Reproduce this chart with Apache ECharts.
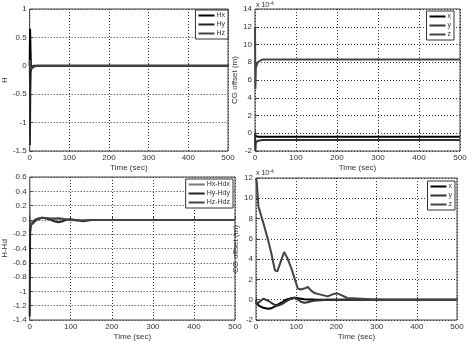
<!DOCTYPE html>
<html><head><meta charset="utf-8">
<script src="https://cdn.jsdelivr.net/npm/echarts@6/dist/echarts.min.js"></script>
<style>html,body{margin:0;padding:0;background:#fff}#c{width:474px;height:355px}</style>
</head><body><div id="c"></div>
<script>
// ---- Data ----
const xTicks = [0, 100, 200, 300, 400, 500];
// Top-left: H
const tH = [0, 1, 2, 3, 5, 8, 12, 20, 500];
const Hx = [0, 0.65, 0.3, 0.02, -0.02, -0.01, 0, 0, 0];
const Hy = [0, -1.4, -0.5, -0.1, -0.05, -0.03, -0.01, 0, 0];
const Hz = [0, 0.1, -0.05, -0.03, -0.03, -0.02, -0.01, 0, 0];
// Top-right: CG offset (x 10^-4)
const tCG1 = [0, 1, 2, 4, 7, 10, 15, 20, 30, 500];
const cg1x = [0, -0.3, -0.4, -0.4, -0.4, -0.4, -0.4, -0.4, -0.4, -0.4];
const cg1y = [0, -2.0, -1.0, -0.9, -0.85, -0.8, -0.78, -0.76, -0.75, -0.75];
const cg1z = [12, 5, 7.3, 7.7, 8.0, 8.15, 8.25, 8.3, 8.3, 8.3];
// Bottom-left: H-Hd
const tHd = [0, 1, 3, 5, 8, 12, 20, 30, 40, 50, 60, 70, 80, 90, 100, 110, 120, 130, 140, 150, 500];
const HxHdx = [0.6, 0.1, -0.02, -0.04, -0.03, -0.01, 0.01, 0.02, 0.02, 0.015, 0.01, 0.01, 0.01, 0.005, 0, 0, 0, 0, 0, 0, 0];
const HyHdy = [-1.35, -0.2, -0.06, -0.08, -0.05, -0.02, 0.01, 0.03, 0.02, 0.005, -0.02, -0.033, -0.02, 0.005, 0.01, 0, -0.01, -0.02, -0.01, 0, 0];
const HzHdz = [0, -0.05, -0.08, -0.06, -0.03, 0, 0.02, 0.03, 0.025, 0.02, 0.02, 0.023, 0.015, 0.005, 0, -0.005, -0.01, -0.01, -0.005, 0, 0];
// Bottom-right: CG offset (x 10^-4)
const tCG2 = [0, 2, 6, 18, 30, 38, 47, 53, 63, 70, 78, 88, 96, 104, 112, 120, 129, 137, 145, 161, 178, 194, 202, 215, 227, 252, 284, 320, 500];
const cg2z = [12, 11.6, 9.2, 7.6, 5.9, 4.6, 2.9, 2.8, 3.9, 4.7, 4.1, 3.1, 2.1, 1.1, 1.0, 1.1, 1.25, 0.9, 0.67, 0.5, 0.33, 0.57, 0.63, 0.4, 0.17, 0.13, 0.05, 0, 0];
const cg2x = [-0.3, -0.4, -0.55, -0.8, -0.9, -0.85, -0.65, -0.5, -0.3, -0.1, 0.05, 0.15, 0.2, 0.15, 0.1, 0.05, 0.03, 0.02, 0.01, 0, 0, 0, 0, 0, 0, 0, 0, 0, 0];
const cg2y = [0, -0.5, -0.3, 0.1, -0.1, -0.3, -0.5, -0.6, -0.45, -0.3, -0.1, 0.1, 0.2, 0, -0.2, -0.3, -0.25, -0.15, -0.1, -0.05, 0, 0, 0, 0, 0, 0, 0, 0, 0];

const pairs = (t, v) => t.map((ti, i) => [ti, v[i]]);
const FONT = 'Liberation Sans';
const txt = {fontFamily: FONT, fontSize: 8, color: '#333'};

const grids = [
  {left: 26, top: 9, width: 202, height: 142},
  {left: 255, top: 9, width: 205, height: 142},
  {left: 26, top: 177, width: 209, height: 143},
  {left: 256, top: 178, width: 201, height: 142}
].map(g => Object.assign(g, {show: true, borderColor: '#444', borderWidth: 1, backgroundColor: '#fff'}));

const splitLine = {show: true, lineStyle: {color: '#333', type: [1, 2], width: 1}};
function xAx(i) {
  return {type: 'value', gridIndex: i, min: 0, max: 500, interval: 100,
    name: 'Time (sec)', nameLocation: 'middle', nameGap: 13, nameTextStyle: txt,
    axisLine: {show: false}, axisTick: {show: true, inside: true, length: 3, lineStyle: {color: '#444'}},
    axisLabel: Object.assign({margin: 3}, txt), splitLine: splitLine};
}
function yAx(i, min, max, interval, name, gap) {
  return {type: 'value', gridIndex: i, min: min, max: max, interval: interval,
    name: name, nameLocation: 'middle', nameGap: gap, nameTextStyle: txt,
    axisLine: {show: false}, axisTick: {show: true, inside: true, length: 3, lineStyle: {color: '#444'}},
    axisLabel: Object.assign({margin: 3}, txt), splitLine: splitLine};
}
function line(name, t, v, idx, color, width) {
  return {name: name, type: 'line', xAxisIndex: idx, yAxisIndex: idx, data: pairs(t, v),
    showSymbol: false, symbol: 'none', lineStyle: {color: color, width: width}, itemStyle: {color: color},
    animation: false};
}
function legend(names, pos) {
  return Object.assign({data: names, orient: 'vertical', itemWidth: 16, itemHeight: 2, itemGap: 2,
    icon: 'rect', padding: [2, 3, 2, 3], backgroundColor: '#fff', borderColor: '#333', borderWidth: 1,
    borderRadius: 0, textStyle: {fontFamily: FONT, fontSize: 7, color: '#333', padding: [0, 0, 0, -3]},
    selectedMode: false, align: 'left'}, pos);
}
const exp = (x, y) => ({type: 'text', left: x, top: y, style: {
  text: '{a|x 10}{b|-4}', rich: {a: {fontFamily: FONT, fontSize: 7, fill: '#333'}, b: {fontFamily: FONT, fontSize: 5, fill: '#333', verticalAlign: 'top', padding: [0, 0, 4, 0]}}}});

const chart = echarts.init(document.getElementById('c'), null, {renderer: 'canvas'});
chart.setOption({
  animation: false,
  backgroundColor: '#fff',
  grid: grids,
  xAxis: [xAx(0), xAx(1), xAx(2), xAx(3)],
  yAxis: [
    yAx(0, -1.5, 1, 0.5, 'H', 19),
    yAx(1, -2, 14, 2, 'CG offset (m)', 12),
    yAx(2, -1.4, 0.6, 0.2, 'H-Hd', 20),
    yAx(3, -2, 12, 2, 'CG offset (m)', 14)
  ],
  legend: [
    legend(['Hx', 'Hy', 'Hz'], {right: 474 - 228, top: 10}),
    legend(['x', 'y', 'z'], {right: 474 - 454, top: 11}),
    legend(['Hx-Hdx', 'Hy-Hdy', 'Hz-Hdz'], {right: 474 - 233, top: 179}),
    legend(['x', 'y', 'z'], {right: 474 - 455, top: 181})
  ],
  graphic: [exp(256, 1), exp(256, 169)],
  series: [
    line('Hx', tH, Hx, 0, '#000', 2),
    line('Hy', tH, Hy, 0, '#222', 1.6),
    line('Hz', tH, Hz, 0, '#444', 2),
    line('x', tCG1, cg1x, 1, '#000', 2),
    line('y', tCG1, cg1y, 1, '#333', 2),
    line('z', tCG1, cg1z, 1, '#444', 2),
    line('Hx-Hdx', tHd, HxHdx, 2, '#777', 1),
    line('Hy-Hdy', tHd, HyHdy, 2, '#222', 2),
    line('Hz-Hdz', tHd, HzHdz, 2, '#444', 2),
    line('x', tCG2, cg2x, 3, '#000', 2),
    line('y', tCG2, cg2y, 3, '#333', 2),
    line('z', tCG2, cg2z, 3, '#444', 2)
  ]
});
</script></body></html>
